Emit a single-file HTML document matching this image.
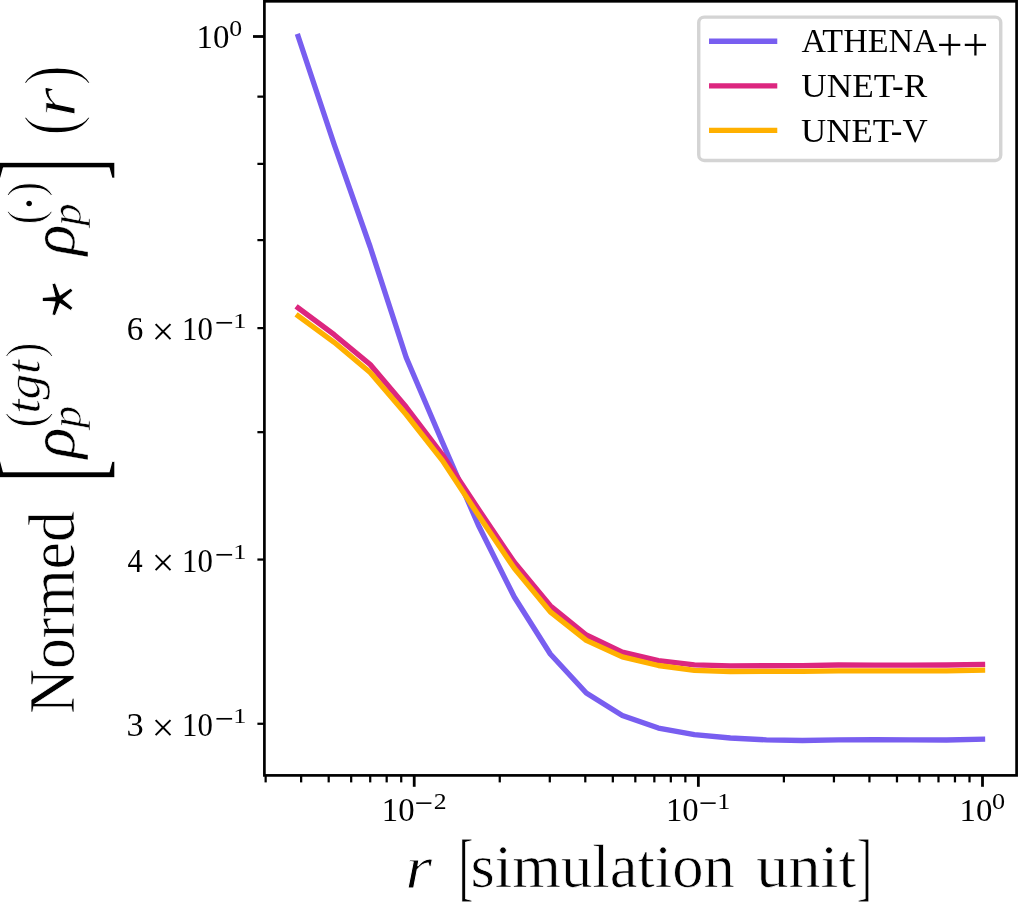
<!DOCTYPE html>
<html><head><meta charset="utf-8"><title>Normed correlation plot</title>
<style>html,body{margin:0;padding:0;background:#fff}svg{display:block}</style></head>
<body><svg width="1018" height="903" viewBox="0 0 1018 903">
<rect width="1018" height="903" fill="#fff"/>
<polyline points="298.2,36.5 334.2,144.5 370.2,247.0 406.2,357.5 442.3,442.0 478.3,525.0 514.3,597.0 550.3,654.0 586.3,693.0 622.3,715.4 658.4,728.1 694.4,734.7 730.4,738.0 766.4,739.9 802.4,740.5 838.4,739.9 874.5,739.7 910.5,739.9 946.5,740.0 982.5,739.2" fill="none" stroke="#785EF0" stroke-width="5.35" stroke-linecap="square" stroke-linejoin="round"/>
<polyline points="298.2,308.0 334.2,334.7 370.2,364.5 406.2,407.0 442.3,454.5 478.3,509.0 514.3,562.3 550.3,605.8 586.3,635.0 622.3,652.1 658.4,660.6 694.4,664.8 730.4,665.9 766.4,665.7 802.4,665.6 838.4,665.0 874.5,665.1 910.5,665.1 946.5,665.0 982.5,664.4" fill="none" stroke="#DC267F" stroke-width="5.35" stroke-linecap="square" stroke-linejoin="round"/>
<polyline points="298.2,316.0 334.2,342.3 370.2,372.5 406.2,414.5 442.3,460.4 478.3,515.0 514.3,568.3 550.3,611.9 586.3,640.4 622.3,656.9 658.4,665.5 694.4,670.3 730.4,671.5 766.4,671.4 802.4,671.3 838.4,670.8 874.5,670.9 910.5,670.9 946.5,670.8 982.5,670.2" fill="none" stroke="#FFB000" stroke-width="5.35" stroke-linecap="square" stroke-linejoin="round"/>
<g stroke="#000"><line x1="265.65" y1="775.4" x2="265.65" y2="782.4" stroke-width="2.25"/><line x1="301.15" y1="775.4" x2="301.15" y2="782.4" stroke-width="2.25"/><line x1="328.69" y1="775.4" x2="328.69" y2="782.4" stroke-width="2.25"/><line x1="351.18" y1="775.4" x2="351.18" y2="782.4" stroke-width="2.25"/><line x1="370.21" y1="775.4" x2="370.21" y2="782.4" stroke-width="2.25"/><line x1="386.68" y1="775.4" x2="386.68" y2="782.4" stroke-width="2.25"/><line x1="401.22" y1="775.4" x2="401.22" y2="782.4" stroke-width="2.25"/><line x1="499.75" y1="775.4" x2="499.75" y2="782.4" stroke-width="2.25"/><line x1="549.79" y1="775.4" x2="549.79" y2="782.4" stroke-width="2.25"/><line x1="585.29" y1="775.4" x2="585.29" y2="782.4" stroke-width="2.25"/><line x1="612.83" y1="775.4" x2="612.83" y2="782.4" stroke-width="2.25"/><line x1="635.32" y1="775.4" x2="635.32" y2="782.4" stroke-width="2.25"/><line x1="654.35" y1="775.4" x2="654.35" y2="782.4" stroke-width="2.25"/><line x1="670.82" y1="775.4" x2="670.82" y2="782.4" stroke-width="2.25"/><line x1="685.36" y1="775.4" x2="685.36" y2="782.4" stroke-width="2.25"/><line x1="783.89" y1="775.4" x2="783.89" y2="782.4" stroke-width="2.25"/><line x1="833.93" y1="775.4" x2="833.93" y2="782.4" stroke-width="2.25"/><line x1="869.43" y1="775.4" x2="869.43" y2="782.4" stroke-width="2.25"/><line x1="896.97" y1="775.4" x2="896.97" y2="782.4" stroke-width="2.25"/><line x1="919.46" y1="775.4" x2="919.46" y2="782.4" stroke-width="2.25"/><line x1="938.49" y1="775.4" x2="938.49" y2="782.4" stroke-width="2.25"/><line x1="954.96" y1="775.4" x2="954.96" y2="782.4" stroke-width="2.25"/><line x1="969.50" y1="775.4" x2="969.50" y2="782.4" stroke-width="2.25"/><line x1="414.22" y1="775.4" x2="414.22" y2="786.8" stroke-width="2.8"/><line x1="698.36" y1="775.4" x2="698.36" y2="786.8" stroke-width="2.8"/><line x1="982.50" y1="775.4" x2="982.50" y2="786.8" stroke-width="2.8"/><line x1="264.4" y1="723.77" x2="257.4" y2="723.77" stroke-width="2.25"/><line x1="264.4" y1="559.55" x2="257.4" y2="559.55" stroke-width="2.25"/><line x1="264.4" y1="432.17" x2="257.4" y2="432.17" stroke-width="2.25"/><line x1="264.4" y1="328.10" x2="257.4" y2="328.10" stroke-width="2.25"/><line x1="264.4" y1="240.10" x2="257.4" y2="240.10" stroke-width="2.25"/><line x1="264.4" y1="163.88" x2="257.4" y2="163.88" stroke-width="2.25"/><line x1="264.4" y1="96.64" x2="257.4" y2="96.64" stroke-width="2.25"/><line x1="264.4" y1="36.50" x2="252.99999999999997" y2="36.50" stroke-width="2.8"/></g>
<rect x="264.4" y="1.3" width="752.2" height="774.1" fill="none" stroke="#000" stroke-width="2.7"/>
<text font-family='"Liberation Serif", serif' fill="#000"><tspan x="381.77" y="820.57" font-size="32.89" textLength="32.76" lengthAdjust="spacingAndGlyphs">10</tspan><tspan x="414.59" y="814.09" font-size="32.69">−</tspan><tspan x="433.66" y="808.80" font-size="22.12" textLength="12.87" lengthAdjust="spacingAndGlyphs">2</tspan></text>
<text font-family='"Liberation Serif", serif' fill="#000"><tspan x="665.91" y="820.57" font-size="32.89" textLength="32.76" lengthAdjust="spacingAndGlyphs">10</tspan><tspan x="698.73" y="814.09" font-size="32.69">−</tspan><tspan x="717.39" y="808.60" font-size="23.05" textLength="13.14" lengthAdjust="spacingAndGlyphs">1</tspan></text>
<text font-family='"Liberation Serif", serif' fill="#000"><tspan x="959.64" y="820.58" font-size="32.44" textLength="32.87" lengthAdjust="spacingAndGlyphs">10</tspan><tspan x="991.95" y="809.37" font-size="23.26" textLength="13.10" lengthAdjust="spacingAndGlyphs">0</tspan></text>
<text font-family='"Liberation Serif", serif' fill="#000"><tspan x="196.64" y="48.07" font-size="32.74" textLength="32.87" lengthAdjust="spacingAndGlyphs">10</tspan><tspan x="229.17" y="36.47" font-size="23.26" textLength="12.86" lengthAdjust="spacingAndGlyphs">0</tspan></text>
<text font-family='"Liberation Serif", serif' fill="#000"><tspan x="126.71" y="340.37" font-size="32.99" textLength="16.59" lengthAdjust="spacingAndGlyphs">6</tspan> <tspan x="151.70" y="344.90" font-size="40.00">×</tspan> <tspan x="182.03" y="340.37" font-size="32.74" textLength="30.80" lengthAdjust="spacingAndGlyphs">10</tspan><tspan x="214.51" y="334.24" font-size="33.76">−</tspan><tspan x="233.33" y="327.70" font-size="21.98" textLength="13.14" lengthAdjust="spacingAndGlyphs">1</tspan></text>
<text font-family='"Liberation Serif", serif' fill="#000"><tspan x="127.59" y="572.32" font-size="34.00" textLength="15.16" lengthAdjust="spacingAndGlyphs">4</tspan> <tspan x="151.70" y="576.35" font-size="40.00">×</tspan> <tspan x="182.03" y="571.82" font-size="32.74" textLength="30.80" lengthAdjust="spacingAndGlyphs">10</tspan><tspan x="214.51" y="565.69" font-size="33.76">−</tspan><tspan x="233.33" y="559.15" font-size="21.98" textLength="13.14" lengthAdjust="spacingAndGlyphs">1</tspan></text>
<text font-family='"Liberation Serif", serif' fill="#000"><tspan x="126.48" y="736.04" font-size="32.99" textLength="17.20" lengthAdjust="spacingAndGlyphs">3</tspan> <tspan x="151.70" y="740.57" font-size="40.00">×</tspan> <tspan x="182.03" y="736.04" font-size="32.74" textLength="30.80" lengthAdjust="spacingAndGlyphs">10</tspan><tspan x="214.51" y="729.91" font-size="33.76">−</tspan><tspan x="233.33" y="723.37" font-size="21.98" textLength="13.14" lengthAdjust="spacingAndGlyphs">1</tspan></text>
<text font-family='"Liberation Serif", serif' fill="#000"><tspan x="405.23" y="887.91" font-size="61.51" font-style="italic" textLength="26.91" lengthAdjust="spacingAndGlyphs" stroke="#fff" stroke-width="0.9">r</tspan> <tspan x="458.66" y="891.72" font-size="76.12" textLength="14.38" lengthAdjust="spacingAndGlyphs" stroke="#fff" stroke-width="0.8">[</tspan><tspan x="470.50" y="887.00" font-size="60.43" textLength="264.38" lengthAdjust="spacingAndGlyphs" stroke="#fff" stroke-width="0.7">simulation</tspan> <tspan x="756.34" y="886.99" font-size="60.90" textLength="100.03" lengthAdjust="spacingAndGlyphs" stroke="#fff" stroke-width="0.7">unit</tspan><tspan x="857.01" y="891.72" font-size="76.12" textLength="15.10" lengthAdjust="spacingAndGlyphs" stroke="#fff" stroke-width="0.8">]</tspan></text>
<rect x="698.75" y="17.1" width="302" height="143.4" rx="5.5" ry="5.5" fill="#fff" fill-opacity="0.8" stroke="#d4d4d4" stroke-width="3.4"/>
<line x1="711.7" y1="41.2" x2="774.6" y2="41.2" stroke="#785EF0" stroke-width="5.35" stroke-linecap="square"/>
<line x1="711.7" y1="85.8" x2="774.6" y2="85.8" stroke="#DC267F" stroke-width="5.35" stroke-linecap="square"/>
<line x1="711.7" y1="130.4" x2="774.6" y2="130.4" stroke="#FFB000" stroke-width="5.35" stroke-linecap="square"/>
<text font-family='"Liberation Serif", serif' fill="#000"><tspan x="801.56" y="52.20" font-size="34.35" textLength="136.16" lengthAdjust="spacingAndGlyphs">ATHENA</tspan><tspan x="936.81" y="60.04" font-size="45.73">++</tspan></text>
<text font-family='"Liberation Serif", serif' fill="#000"><tspan x="801.30" y="97.16" font-size="33.53" textLength="125.88" lengthAdjust="spacingAndGlyphs">UNET-R</tspan></text>
<text font-family='"Liberation Serif", serif' fill="#000"><tspan x="801.10" y="141.70" font-size="33.43" textLength="126.53" lengthAdjust="spacingAndGlyphs">UNET-V</tspan></text>
<text transform="rotate(-90)" font-family='"Liberation Serif", serif' fill="#000"><tspan x="-713.76" y="74.04" font-size="65.86" textLength="202.69" lengthAdjust="spacingAndGlyphs" stroke="#fff" stroke-width="0.7">Normed</tspan> <tspan x="-482.92" y="96.40" font-size="141.45" textLength="24.07" lengthAdjust="spacingAndGlyphs" stroke="#fff" stroke-width="1.3">[</tspan><tspan x="-458.21" y="74.12" font-size="63.24" font-style="italic" textLength="30.52" lengthAdjust="spacingAndGlyphs" stroke="#fff" stroke-width="0.4">ρ</tspan><tspan x="-428.03" y="80.93" font-size="43.68" font-style="italic" textLength="22.26" lengthAdjust="spacingAndGlyphs" stroke="#fff" stroke-width="0.6">p</tspan><tspan x="-427.75" y="41.68" font-size="52.00" textLength="15.93" lengthAdjust="spacingAndGlyphs" stroke="#fff" stroke-width="1.1">(</tspan><tspan x="-413.59" y="39.52" font-size="48.96" font-style="italic" textLength="53.71" lengthAdjust="spacingAndGlyphs" stroke="#fff" stroke-width="0.6">tgt</tspan><tspan x="-358.11" y="41.68" font-size="52.00" textLength="15.63" lengthAdjust="spacingAndGlyphs" stroke="#fff" stroke-width="1.1">)</tspan> <tspan x="-321.42" y="77.62" font-size="70.23" font-family='"DejaVu Math TeX Gyre", "DejaVu Sans", sans-serif' textLength="44.42" lengthAdjust="spacingAndGlyphs" stroke="#fff" stroke-width="0.9">⋆</tspan> <tspan x="-255.31" y="74.02" font-size="63.24" font-style="italic" textLength="30.52" lengthAdjust="spacingAndGlyphs" stroke="#fff" stroke-width="0.4">ρ</tspan><tspan x="-225.72" y="81.08" font-size="44.85" font-style="italic" textLength="22.36" lengthAdjust="spacingAndGlyphs" stroke="#fff" stroke-width="0.6">p</tspan><tspan x="-224.49" y="41.65" font-size="51.67" textLength="14.76" lengthAdjust="spacingAndGlyphs" stroke="#fff" stroke-width="1.1">(</tspan><tspan x="-211.41" y="44.56" font-size="47.83" textLength="15.93" lengthAdjust="spacingAndGlyphs">·</tspan><tspan x="-197.08" y="41.65" font-size="51.67" textLength="15.37" lengthAdjust="spacingAndGlyphs" stroke="#fff" stroke-width="1.1">)</tspan><tspan x="-180.56" y="96.40" font-size="141.45" textLength="23.39" lengthAdjust="spacingAndGlyphs" stroke="#fff" stroke-width="1.3">]</tspan> <tspan x="-135.45" y="74.88" font-size="73.44" textLength="20.37" lengthAdjust="spacingAndGlyphs" stroke="#fff" stroke-width="1.6">(</tspan><tspan x="-117.37" y="74.62" font-size="64.30" font-style="italic" textLength="29.91" lengthAdjust="spacingAndGlyphs" stroke="#fff" stroke-width="1.0">r</tspan><tspan x="-85.20" y="74.88" font-size="73.44" textLength="19.98" lengthAdjust="spacingAndGlyphs" stroke="#fff" stroke-width="1.6">)</tspan></text>
</svg></body></html>
